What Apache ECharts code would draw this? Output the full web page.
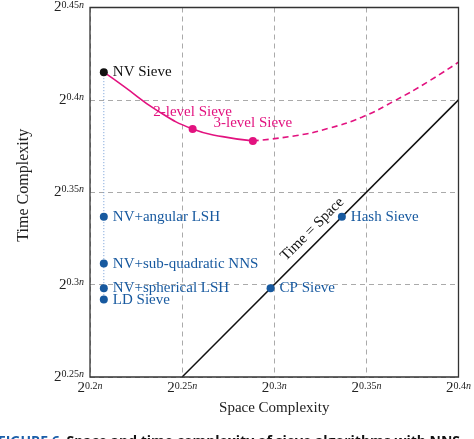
<!DOCTYPE html>
<html>
<head>
<meta charset="utf-8">
<script src="https://cdn.jsdelivr.net/npm/echarts@6/dist/echarts.min.js"></script>
<style>
  html, body { margin: 0; padding: 0; background: #fff; }
  #chart { width: 474px; height: 439px; }
</style>
</head>
<body>
<div id="chart"></div>
<script>
// tick exponents (2^{x n})
const xTicks = ['0.2', '0.25', '0.3', '0.35', '0.4']
const yTicks = ['0.25', '0.3', '0.35', '0.4', '0.45']

// pink trade-off curve (space, time)
const curveSolid = [[0.2075, 0.415], [0.218, 0.4076], [0.2365, 0.3942], [0.2557, 0.3842], [0.272, 0.3801], [0.2884, 0.3778]]
const curveDashed = [[0.2884, 0.3778], [0.3115, 0.3806], [0.3295, 0.3846], [0.3475, 0.3906], [0.3655, 0.3996], [0.3834, 0.4098], [0.4, 0.4204]]
const levelNames = ['2-level Sieve', '3-level Sieve']
const levelPoints = [[0.2557, 0.3842], [0.2884, 0.3778]]

// time = space
const diagonal = [[0.25, 0.25], [0.4, 0.4]]

// NV sieve and its NNS variants
const nvPoint = [0.2075, 0.415]
const blueNames = ['NV+angular LSH', 'NV+sub-quadratic NNS', 'NV+spherical LSH', 'LD Sieve', 'CP Sieve', 'Hash Sieve']
const bluePoints = [[0.2075, 0.3368], [0.2075, 0.3114], [0.2075, 0.2981], [0.2075, 0.2919], [0.298, 0.298], [0.3367, 0.3367]]

const PINK = '#e2127f'
const BLUE = '#17599f'
const SERIF = 'Liberation Serif'

const chart = echarts.init(document.getElementById('chart'))

const tickRich = {
  b: { fontFamily: SERIF, fontSize: 15, color: '#222' },
  s: { fontFamily: SERIF, fontSize: 10, color: '#222', verticalAlign: 'top' },
  i: { fontFamily: SERIF, fontSize: 10, fontStyle: 'italic', color: '#222', verticalAlign: 'top' }
}
const tickFmt = list => v => {
  const k = list.find(t => Math.abs(parseFloat(t) - v) < 1e-6)
  return k ? '{b|2}{s|' + k + '}{i|n}' : ''
}

const option = {
  animation: false,
  grid: { left: 90, right: 13, top: 7, bottom: 62, show: true, borderColor: '#333', borderWidth: 1.3, z: 10 },
  xAxis: {
    type: 'value', min: 0.2, max: 0.4, interval: 0.05,
    name: 'Space Complexity', nameLocation: 'middle', nameGap: 24,
    nameTextStyle: { fontFamily: SERIF, fontSize: 15, color: '#222' },
    axisLine: { show: false }, axisTick: { show: false },
    axisLabel: { formatter: tickFmt(xTicks), rich: tickRich, margin: 4 },
    splitLine: { lineStyle: { color: '#aaa', type: [5, 4], width: 1 } }
  },
  yAxis: {
    type: 'value', min: 0.25, max: 0.45, interval: 0.05,
    name: 'Time Complexity', nameLocation: 'middle', nameGap: 58,
    nameTextStyle: { fontFamily: SERIF, fontSize: 16, color: '#222', padding: [0, 0, 0, 14] },
    axisLine: { show: false }, axisTick: { show: false },
    axisLabel: { formatter: tickFmt(yTicks), rich: tickRich, margin: 6 },
    splitLine: { lineStyle: { color: '#aaa', type: [5, 4], width: 1 } }
  },
  series: [
    {
      type: 'line', data: diagonal, symbol: 'none',
      lineStyle: { color: '#111', width: 1.5 }, z: 3
    },
    {
      type: 'scatter', data: [[0.3207, 0.33]], symbolSize: 0,
      itemStyle: { opacity: 1 },
      label: {
        show: true, formatter: 'Time = Space', rotate: 45, position: 'inside',
        fontFamily: SERIF, fontSize: 15, color: '#111'
      }
    },
    {
      type: 'line', data: [nvPoint, bluePoints[3]], symbol: 'none',
      lineStyle: { color: '#6f9bd6', width: 1, type: [1, 2] }, z: 2
    },
    {
      type: 'line', data: curveSolid, smooth: true, symbol: 'none',
      lineStyle: { color: PINK, width: 1.6 }, z: 3
    },
    {
      type: 'line', data: curveDashed, smooth: true, symbol: 'none',
      lineStyle: { color: PINK, width: 1.6, type: [6, 4] }, z: 3
    },
    {
      type: 'scatter', symbolSize: 8, itemStyle: { color: PINK, opacity: 1 }, z: 4,
      data: levelPoints.map((p, i) => ({ value: p, name: levelNames[i] })),
      label: {
        show: true, position: 'top', distance: 6, formatter: '{b}',
        fontFamily: SERIF, fontSize: 15, color: PINK
      }
    },
    {
      type: 'scatter', symbolSize: 8, itemStyle: { color: BLUE, opacity: 1 }, z: 4,
      data: bluePoints.map((p, i) => ({ value: p, name: blueNames[i] })),
      labelLayout: { hideOverlap: false },
      label: {
        show: true, position: 'right', distance: 5, formatter: '{b}',
        fontFamily: SERIF, fontSize: 15, color: BLUE
      }
    },
    {
      type: 'scatter', symbolSize: 8, itemStyle: { color: '#111', opacity: 1 }, z: 5,
      data: [{ value: nvPoint, name: 'NV Sieve' }],
      label: {
        show: true, position: 'right', distance: 5, formatter: '{b}',
        fontFamily: SERIF, fontSize: 15, color: '#111'
      }
    }
  ],
  graphic: [
    {
      type: 'text', left: -2, top: 435,
      style: {
        text: '{f|FIGURE 6}  {t|Space and time complexity of sieve algorithms with NNS}',
        rich: {
          f: { fontFamily: 'Open Sans', fontWeight: 'bold', fontSize: 14, fill: '#1b5ea9' },
          t: { fontFamily: 'Open Sans', fontWeight: 'bold', fontSize: 14, fill: '#111' }
        }
      }
    }
  ]
}

chart.setOption(option)
</script>
</body>
</html>
